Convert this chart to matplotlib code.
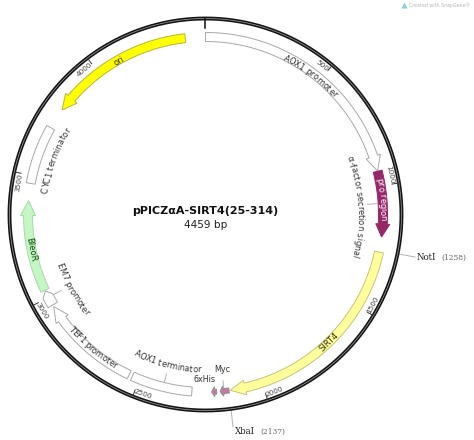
import numpy as np
import matplotlib
matplotlib.use('Agg')
import matplotlib.pyplot as plt
from matplotlib.font_manager import FontProperties
from matplotlib.textpath import TextToPath

TOTAL_BP = 4459
TITLE = 'pPICZαA-SIRT4(25-314)'
SUBTITLE = '4459 bp'

feature_names = ['AOX1 promoter', 'pro region', 'SIRT4', 'Myc', '6xHis', 'AOX1 terminator',
                 'TEF1 promoter', 'EM7 promoter', 'BleoR', 'CYC1 terminator', 'ori']
feature_tail = [0, 940, 1266, 2135, 2185, 2284, 2545, 2965, 3031, 3469, 4378]
feature_tip = [939, 1205, 2130, 2171, 2205, 2531, 2957, 3028, 3400, 3707, 3791]
feature_arrow = [True, True, True, True, True, False, True, True, True, False, True]
feature_fill = ['#ffffff', '#96286a', '#ffff9c', '#c878a8', '#c878a8', '#ffffff',
                '#ffffff', '#ffffff', '#c4f7c4', '#ffffff', '#ffff00']
feature_edge = ['#a8a8a8', '#96286a', '#c4c47c', '#909090', '#909090', '#a8a8a8',
                '#a8a8a8', '#a8a8a8', '#a8d8a8', '#a8a8a8', '#b4b440']

tick_bp = [500, 1000, 1500, 2000, 2500, 3000, 3500, 4000]

site_names = ['NotI', 'XbaI']
site_bp = [1258, 2137]
site_labels = ['(1258)', '(2137)']

CX, CY, R = 205.5, 214.5, 196.0
PX = 100 / 72
ttp = TextToPath()


def ang(bp):
    return bp / TOTAL_BP * 360.0


def pol(a, r):
    t = np.radians(a)
    return CX + r * np.sin(t), CY - r * np.cos(t)


def text_w(s, fp):
    # measured against a closing bar so that trailing advance and spaces count
    g = ttp.get_text_width_height_descent
    return (g(s + '|', fp, False)[0] - g('|', fp, False)[0]) * PX


def curved(ax, s, a_c, r_c, size, color='#333333', anchor='center', per_char=True):
    """Place text along a circle; long labels follow the curve character by character."""
    fp = FontProperties(family='DejaVu Sans', size=size)
    total = text_w(s, fp)
    a_norm = a_c % 360
    top = a_norm < 90 or a_norm > 270
    sign = 1 if top else -1
    base_r = r_c - sign * size * PX * 0.36
    if anchor == 'center':
        off0 = -total / 2
    else:  # the text ends at a_c, on its counter-clockwise side
        off0 = -total if top else 0
    pieces = list(s) if per_char else [s]
    done = ''
    for piece in pieces:
        w0 = text_w(done, fp) if done else 0
        done += piece
        w1 = text_w(done, fp)
        if piece == ' ':
            continue
        mid = off0 + (w0 + w1) / 2
        a = a_c + sign * np.degrees(mid / base_r)
        x, y = pol(a, base_r)
        rot = -a if top else 180 - a
        ax.text(x, y, piece, rotation=rot, rotation_mode='anchor', ha='center', va='baseline',
                fontproperties=fp, color=color, zorder=4)


def arrow_poly(a0, a1, r_in, r_out, arrow, head_px, flare):
    d = 1 if a1 > a0 else -1
    if not arrow:
        aa = np.linspace(a0, a1, 80)
        xo, yo = pol(aa, r_out)
        xi, yi = pol(aa[::-1], r_in)
        return np.r_[xo, xi], np.r_[yo, yi]
    head = np.degrees(head_px / ((r_in + r_out) / 2))
    a_s = a1 - d * head
    if (a_s - a0) * d < 0:
        a_s = a0
    aa = np.linspace(a0, a_s, 80)
    xo, yo = pol(aa, r_out)
    xi, yi = pol(aa[::-1], r_in)
    xt, yt = pol(a1, (r_in + r_out) / 2)
    xa, ya = pol(a_s, r_out + flare)
    xb, yb = pol(a_s, r_in - flare)
    return np.r_[xo, xa, xt, xb, xi], np.r_[yo, ya, yt, yb, yi]


fig = plt.figure(figsize=(4.74, 4.40), dpi=100)
ax = fig.add_axes([0, 0, 1, 1])
ax.set_xlim(0, 474)
ax.set_ylim(440, 0)
ax.axis('off')

# backbone
th = np.linspace(0, 360, 721)
bx, by = pol(th, R)
ax.plot(bx, by, color='#151515', lw=2.8, solid_capstyle='butt')
ax.plot(bx, by, color='#a0a0a0', lw=0.5)
ax.plot(*zip(pol(0, R), pol(0, R - 10)), color='#111111', lw=1.1)

# features
for name, t0, t1, arr, fc, ec in zip(feature_names, feature_tail, feature_tip, feature_arrow, feature_fill, feature_edge):
    small = name in ('Myc', '6xHis')
    r_in, r_out = (173, 182) if not small else (175, 180)
    head = 15 if not small else 3
    flare = 3 if not small else 2.5
    if name == 'EM7 promoter':
        r_in, r_out = 172, 183
        head, flare = 6, 0
    if name == 'pro region':
        head, flare = 13, 2.5
    x, y = arrow_poly(ang(t0), ang(t1), r_in, r_out, arr, head, flare)
    ax.fill(x, y, facecolor=fc, edgecolor=ec, lw=0.7, zorder=2)

# feature labels
curved(ax, 'AOX1 promoter', 37, 176, 6.0, '#333333')
curved(ax, 'pro region', 85, 177.5, 6.0, '#ffffff')
curved(ax, 'SIRT4', 136, 177, 6.0, '#33330a', per_char=False)
curved(ax, 'ori', 330.7, 176.5, 6.0, '#33330a', per_char=False)
curved(ax, 'BleoR', 258.6, 177.5, 6.0, '#0c4a0c', per_char=False)
curved(ax, 'TEF1 promoter', 220.5, 176, 6.0)
curved(ax, 'α-factor secretion signal', 87, 155, 6.0)
curved(ax, 'AOX1 terminator', 194.4, 155, 6.0)
curved(ax, 'EM7 promoter', 240.7, 154, 6.0)
curved(ax, 'CYC1 terminator', 289.7, 162, 6.0)

# straight labels and their leader lines
ax.text(205, 380, '6xHis', fontsize=5.8, ha='center', va='center', color='#333333')
ax.text(222, 370, 'Myc', fontsize=5.8, ha='center', va='center', color='#333333')
ax.plot(*zip(pol(ang(2155), 181), pol(ang(2155), 167)), color='#a8a8a8', lw=0.6, zorder=1)
ax.plot(*zip(pol(ang(2400), 173), pol(ang(2400), 164)), color='#a8a8a8', lw=0.6, zorder=1)
ax.plot(*zip(pol(ang(1070), 172), pol(ang(1070), 162)), color='#a8a8a8', lw=0.6, zorder=1)
ax.plot(*zip(pol(ang(3000), 173), pol(ang(3000), 163)), color='#a8a8a8', lw=0.6, zorder=1)

# ticks
for bp in tick_bp:
    a = ang(bp)
    ax.plot(*zip(pol(a, R - 1), pol(a, R - 7)), color='#333333', lw=0.7)
    curved(ax, str(bp), a, R - 6.5, 5.2, '#444444', anchor='end', per_char=False)

# enzyme sites
site_xy = [(417, 258), (235, 432)]
site_end = [(415, 257), (233, 427)]
for name, bp, lab, xy, end in zip(site_names, site_bp, site_labels, site_xy, site_end):
    ax.plot(*zip(pol(ang(bp), R + 1), end), color='#b0b0b0', lw=0.7, zorder=1)
    t = ax.text(xy[0], xy[1], name, family='DejaVu Serif', fontsize=6.2, va='center', ha='left', color='#222222')
    fig.canvas.draw()
    bb = t.get_window_extent()
    ax.text(bb.x1 + 5, xy[1], lab, family='DejaVu Serif', fontsize=5.4, va='center', ha='left', color='#666666')

# centre
ax.text(205.5, 211, TITLE, fontsize=8.0, fontweight='bold', ha='center', va='center', color='#111111')
ax.text(205.5, 224.5, SUBTITLE, fontsize=7.6, ha='center', va='center', color='#222222')

# watermark
ax.text(470, 5, 'Created with SnapGene®', fontsize=3.4, ha='right', va='center', color='#b8b8b8')
ax.plot([404], [5], marker='^', ms=4, color='#8ccfd8', mec='none')

fig.savefig('out.png', dpi=100)
